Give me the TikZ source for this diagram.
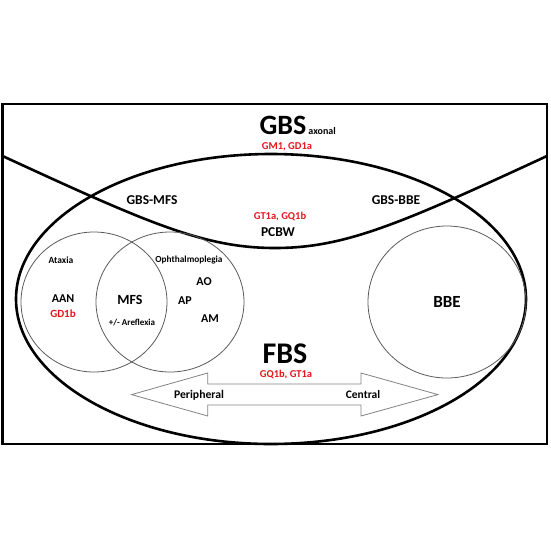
\documentclass[tikz,border=0pt]{standalone}
\usepackage{fontspec}
\setmainfont{Carlito}
\definecolor{abred}{RGB}{228,20,28}
\definecolor{circgray}{RGB}{90,90,90}
\definecolor{arrgray}{RGB}{130,130,130}
\begin{document}
\begin{tikzpicture}[x=1pt,y=-1pt,
  thickline/.style={line width=2.6pt,black},
  thincirc/.style={line width=0.8pt,draw=circgray},
  lbl/.style={inner sep=0pt,font=\bfseries},
  redlbl/.style={lbl,text=abred}]
\useasboundingbox (0,0) rectangle (550,550);
% frame
\draw[thickline] (2.5,104) rectangle (547,444);
% big ellipse
\draw[thickline] (271,299) ellipse [x radius=255pt, y radius=145pt];
% wave curve
\coordinate (wl) at (2.5,156);
\coordinate (wm) at (275,248);
\coordinate (wr) at (547,156);
\draw[thickline] (wl) .. controls (150,224) and (205,248) .. (wm)
  .. controls (345,248) and (400,224) .. (wr);
% circles
\draw[thincirc] (94,302) ellipse [x radius=73pt, y radius=70pt];
\draw[thincirc] (170,302) ellipse [x radius=74pt, y radius=70pt];
\draw[thincirc] (447,302) ellipse [x radius=79pt, y radius=76pt];
% double arrow
\draw[line width=0.8pt,draw=arrgray,line join=miter]
  (131.6,394.6) -- (207.7,373) -- (207.7,384) -- (361,384) -- (361,373)
  -- (438,394.6) -- (361,416) -- (361,405) -- (207.7,405) -- (207.7,416) -- cycle;
% texts
\node[lbl,font=\bfseries\fontsize{28}{28}\selectfont] (gbs) at (283,125) {GBS};
\node[lbl,font=\bfseries\fontsize{10}{10}\selectfont,anchor=base west] (axonal) at (gbs.base east) {\,axonal};
\node[redlbl,font=\bfseries\fontsize{10.5}{10.5}\selectfont] (gm1) at (287,147) {GM1, GD1a};
\node[lbl,font=\bfseries\fontsize{13.5}{13.5}\selectfont] (gbsmfs) at (152,200) {GBS-MFS};
\node[lbl,font=\bfseries\fontsize{13.5}{13.5}\selectfont] (gbsbbe) at (396,200) {GBS-BBE};
\node[redlbl,font=\bfseries\fontsize{10.5}{10.5}\selectfont] (gt1a) at (280,217) {GT1a, GQ1b};
\node[lbl,font=\bfseries\fontsize{13.5}{13.5}\selectfont] (pcbw) at (278,232) {PCBW};
\node[lbl,font=\bfseries\fontsize{9.5}{9.5}\selectfont] (ataxia) at (61,260) {Ataxia};
\node[lbl,font=\bfseries\fontsize{12}{12}\selectfont] (aan) at (63,299) {AAN};
\node[redlbl,font=\bfseries\fontsize{11}{11}\selectfont] (gd1b) at (63,314) {GD1b};
\node[lbl,font=\bfseries\fontsize{14}{14}\selectfont] (mfs) at (130,300) {MFS};
\node[lbl,font=\bfseries\fontsize{9}{9}\selectfont] (arefl) at (132,323) {+/- Areflexia};
\node[lbl,font=\bfseries\fontsize{9.3}{9.3}\selectfont] (ophth) at (189,260) {Ophthalmoplegia};
\node[lbl,font=\bfseries\fontsize{12}{12}\selectfont] (ao) at (204,282) {AO};
\node[lbl,font=\bfseries\fontsize{12}{12}\selectfont] (ap) at (185,301) {AP};
\node[lbl,font=\bfseries\fontsize{12}{12}\selectfont] (am) at (210,319) {AM};
\node[lbl,font=\bfseries\fontsize{17}{17}\selectfont] (bbe) at (447,302) {BBE};
\node[lbl,font=\bfseries\fontsize{30}{30}\selectfont] (fbs) at (285,354) {FBS};
\node[redlbl,font=\bfseries\fontsize{10.5}{10.5}\selectfont] (gq1b) at (286,375) {GQ1b, GT1a};
\node[lbl,font=\bfseries\fontsize{11.7}{11.7}\selectfont] (periph) at (199,395) {Peripheral};
\node[lbl,font=\bfseries\fontsize{11.5}{11.5}\selectfont] (central) at (363,395) {Central};
\end{tikzpicture}
\end{document}
